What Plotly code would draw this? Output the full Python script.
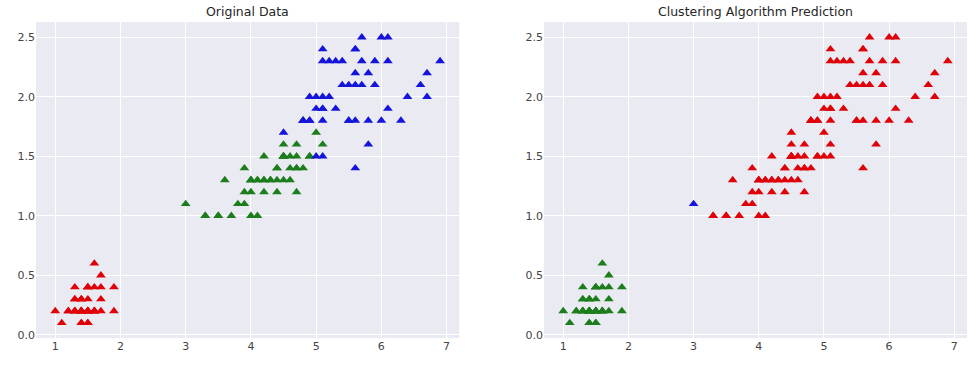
import plotly.graph_objects as go

setosa_len = [1.4, 1.4, 1.3, 1.5, 1.4, 1.7, 1.4, 1.5, 1.4, 1.5, 1.5, 1.6, 1.4, 1.1, 1.2, 1.5, 1.3, 1.4, 1.7, 1.5,
              1.7, 1.5, 1.0, 1.7, 1.9, 1.6, 1.6, 1.5, 1.4, 1.6, 1.6, 1.5, 1.5, 1.4, 1.5, 1.2, 1.3, 1.4, 1.3, 1.5,
              1.3, 1.3, 1.3, 1.6, 1.9, 1.4, 1.6, 1.4, 1.5, 1.4]
setosa_wid = [0.2, 0.2, 0.2, 0.2, 0.2, 0.4, 0.3, 0.2, 0.2, 0.1, 0.2, 0.2, 0.1, 0.1, 0.2, 0.4, 0.4, 0.3, 0.3, 0.3,
              0.2, 0.4, 0.2, 0.5, 0.2, 0.2, 0.4, 0.2, 0.2, 0.2, 0.2, 0.4, 0.1, 0.2, 0.2, 0.2, 0.2, 0.1, 0.2, 0.2,
              0.3, 0.3, 0.2, 0.6, 0.4, 0.3, 0.2, 0.2, 0.2, 0.2]
versi_len = [4.7, 4.5, 4.9, 4.0, 4.6, 4.5, 4.7, 3.3, 4.6, 3.9, 3.5, 4.2, 4.0, 4.7, 3.6, 4.4, 4.5, 4.1, 4.5, 3.9,
             4.8, 4.0, 4.9, 4.7, 4.3, 4.4, 4.8, 5.0, 4.5, 3.5, 3.8, 3.7, 3.9, 5.1, 4.5, 4.5, 4.7, 4.4, 4.1, 4.0,
             4.4, 4.6, 4.0, 3.3, 4.2, 4.2, 4.2, 4.3, 3.0, 4.1]
versi_wid = [1.4, 1.5, 1.5, 1.3, 1.5, 1.3, 1.6, 1.0, 1.3, 1.4, 1.0, 1.5, 1.0, 1.4, 1.3, 1.4, 1.5, 1.0, 1.5, 1.1,
             1.8, 1.3, 1.5, 1.2, 1.3, 1.4, 1.4, 1.7, 1.5, 1.0, 1.1, 1.0, 1.2, 1.6, 1.5, 1.6, 1.5, 1.3, 1.3, 1.3,
             1.2, 1.4, 1.2, 1.0, 1.3, 1.2, 1.3, 1.3, 1.1, 1.3]
virg_len = [6.0, 5.1, 5.9, 5.6, 5.8, 6.6, 4.5, 6.3, 5.8, 6.1, 5.1, 5.3, 5.5, 5.0, 5.1, 5.3, 5.5, 6.7, 6.9, 5.0,
            5.7, 4.9, 6.7, 4.9, 5.7, 6.0, 4.8, 4.9, 5.6, 5.8, 6.1, 6.4, 5.6, 5.1, 5.6, 6.1, 5.6, 5.5, 4.8, 5.4,
            5.6, 5.1, 5.1, 5.9, 5.7, 5.2, 5.0, 5.2, 5.4, 5.1]
virg_wid = [2.5, 1.9, 2.1, 1.8, 2.2, 2.1, 1.7, 1.8, 1.8, 2.5, 2.0, 1.9, 2.1, 2.0, 2.4, 2.3, 1.8, 2.2, 2.3, 1.5,
            2.3, 2.0, 2.0, 1.8, 2.1, 1.8, 1.8, 1.8, 2.1, 1.6, 1.9, 2.0, 2.2, 1.5, 1.4, 2.3, 2.4, 1.8, 1.8, 2.1,
            2.4, 2.3, 1.9, 2.3, 2.5, 2.3, 1.9, 2.0, 2.3, 1.8]

# Cluster labels predicted by the algorithm, one per point in (setosa, versicolor, virginica) order
pred_setosa = [0, 0, 0, 0, 0, 0, 0, 0, 0, 0, 0, 0, 0, 0, 0, 0, 0, 0, 0, 0,
               0, 0, 0, 0, 0, 0, 0, 0, 0, 0, 0, 0, 0, 0, 0, 0, 0, 0, 0, 0,
               0, 0, 0, 0, 0, 0, 0, 0, 0, 0]
pred_versi = [1, 1, 1, 1, 1, 1, 1, 1, 1, 1, 1, 1, 1, 1, 1, 1, 1, 1, 1, 1,
              1, 1, 1, 1, 1, 1, 1, 1, 1, 1, 1, 1, 1, 1, 1, 1, 1, 1, 1, 1,
              1, 1, 1, 1, 1, 1, 1, 1, 2, 1]
pred_virg = [1, 1, 1, 1, 1, 1, 1, 1, 1, 1, 1, 1, 1, 1, 1, 1, 1, 1, 1, 1,
             1, 1, 1, 1, 1, 1, 1, 1, 1, 1, 1, 1, 1, 1, 1, 1, 1, 1, 1, 1,
             1, 1, 1, 1, 1, 1, 1, 1, 1, 1]

RED = "#DF0008"
GREEN = "#1C7D1C"
BLUE = "#1414DA"
cluster_colors = {0: GREEN, 1: RED, 2: BLUE}

all_len = setosa_len + versi_len + virg_len
all_wid = setosa_wid + versi_wid + virg_wid
all_pred = pred_setosa + pred_versi + pred_virg

fig = go.Figure()
marker_base = dict(symbol="triangle-up", size=8.5, line=dict(width=0))

for xs, ys, col in [(setosa_len, setosa_wid, RED), (versi_len, versi_wid, GREEN), (virg_len, virg_wid, BLUE)]:
    fig.add_trace(go.Scatter(x=xs, y=ys, mode="markers", marker=dict(color=col, **marker_base),
                             xaxis="x", yaxis="y", showlegend=False))

for k in [0, 1, 2]:
    xs = [x for x, c in zip(all_len, all_pred) if c == k]
    ys = [y for y, c in zip(all_wid, all_pred) if c == k]
    fig.add_trace(go.Scatter(x=xs, y=ys, mode="markers", marker=dict(color=cluster_colors[k], **marker_base),
                             xaxis="x2", yaxis="y2", showlegend=False))

xr = [0.705, 7.195]
yr = [-0.027, 2.628]
W, H = 980, 376
ydom = [(H - 341.7) / H, (H - 22.3) / H]
axis_common = dict(showline=False, zeroline=False, gridcolor="white", gridwidth=1, ticks="",
                   tickfont=dict(family="DejaVu Sans", size=11, color="#444444"))

fig.update_layout(
    width=W, height=H,
    margin=dict(l=0, r=0, t=0, b=0),
    paper_bgcolor="white", plot_bgcolor="#EAEAF2",
    xaxis=dict(domain=[36 / W, 459.3 / W], range=xr, tickvals=[1, 2, 3, 4, 5, 6, 7], anchor="y", **axis_common),
    yaxis=dict(domain=ydom, range=yr, tickvals=[0, 0.5, 1, 1.5, 2, 2.5], tickformat=".1f", anchor="x", **axis_common),
    xaxis2=dict(domain=[544 / W, 967 / W], range=xr, tickvals=[1, 2, 3, 4, 5, 6, 7], anchor="y2", **axis_common),
    yaxis2=dict(domain=ydom, range=yr, tickvals=[0, 0.5, 1, 1.5, 2, 2.5], tickformat=".1f", anchor="x2", **axis_common),
    annotations=[
        dict(text="Original Data", x=(36 + 459) / 2 / W, y=1 - 11.5 / H, xref="paper", yref="paper",
             showarrow=False, xanchor="center", yanchor="middle",
             font=dict(family="DejaVu Sans", size=12.5, color="#262626")),
        dict(text="Clustering Algorithm Prediction", x=(544 + 967) / 2 / W, y=1 - 11.5 / H, xref="paper",
             yref="paper", showarrow=False, xanchor="center", yanchor="middle",
             font=dict(family="DejaVu Sans", size=12.5, color="#262626")),
    ],
)

fig.write_html("out.html", config={"displayModeBar": False},
               post_script="document.body.style.margin='0';")
